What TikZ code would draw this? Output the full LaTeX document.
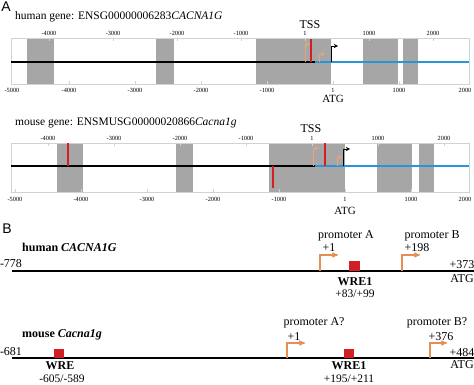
\documentclass[tikz,border=0pt]{standalone}
\usepackage{fontspec}
\setmainfont{Liberation Serif}
\newfontfamily\panelfont{Liberation Sans}
\usepackage{tikz}
\usetikzlibrary{arrows}

\definecolor{exongray}{RGB}{166,166,166}
\definecolor{utrblue}{RGB}{40,150,212}
\definecolor{promorange}{RGB}{230,142,84}
\definecolor{wrered}{RGB}{208,32,36}

\begin{document}
\begin{tikzpicture}[x=1pt,y=-1pt,
    panel/.style={font=\panelfont\fontsize{14}{15}\selectfont, inner sep=0pt},
    title/.style={font=\fontsize{11.5}{13}\selectfont, inner sep=0pt, anchor=west},
    axlab/.style={font=\fontsize{6.3}{7}\selectfont, inner sep=0pt},
    marklab/.style={font=\fontsize{12}{13}\selectfont, inner sep=0pt},
    blab/.style={font=\fontsize{12}{13}\selectfont, inner sep=0pt},
    poslab/.style={font=\fontsize{11.5}{12}\selectfont, inner sep=0pt},
    exon/.style={fill=exongray, draw=none},
    frame/.style={draw=gray!35, line width=0.4pt},
    tick/.style={draw=gray!35, line width=0.4pt},
    intron/.style={line width=1.2pt, black},
    utr/.style={line width=1.2pt, utrblue},
    tss/.style={line width=0.9pt, promorange!80, -stealth},
    atg/.style={line width=0.9pt, black, -stealth},
    wre/.style={line width=1.1pt, wrered},
    prom/.style={line width=1.1pt, promorange, -stealth'},
    box/.style={fill=wrered, draw=none}]
\useasboundingbox (0,0) rectangle (474,385);

% ---------------- Panel A: human gene ----------------
\node[panel] (labA) at (6,7) {A};
\node[title] (htitle) at (15,17) {human gene: ENSG00000006283\textit{CACNA1G}};

% exons (grey blocks)
\fill[exon] (27,38) rectangle (54,84);
\fill[exon] (156,38) rectangle (174,84);
\fill[exon] (256,38) rectangle (331,84);
\fill[exon] (363,38) rectangle (398,84);
\fill[exon] (403,38) rectangle (418,84);
\draw[frame] (11,38) rectangle (469,84);

% scales: top relative to TSS, bottom relative to ATG
\foreach \k/\v in {-4/-4000,-3/-3000,-2/-2000,-1/-1000,0/1,1/1000,2/2000} {
  \node[axlab] at (305+64*\k,33) {\v};
  \draw[tick] (305+64*\k,38) -- ++(0,3);
}
\foreach \k/\v in {-4/-4000,-3/-3000,-2/-2000,-1/-1000,0/1,1/1000} {
  \node[axlab] at (333+66*\k,90) {\v};
  \draw[tick] (333+66*\k,84) -- ++(0,-3);
}
\node[axlab] at (12,90) {-5000};
\node[axlab] at (465,90) {2000};

% gene line
\coordinate (hstart) at (11,62);
\coordinate (htss) at (315,62);
\coordinate (hend) at (469,62);
\draw[intron] (hstart) -- (htss);
\draw[utr] (htss) -- (hend);

% TSS, WRE and ATG marks
\coordinate (hwre) at (311,39);
\draw[wre] (hwre) -- (hwre |- hstart);
\coordinate (htssA) at (305,62);
\coordinate (htssAtip) at (310,44);
\draw[tss] (htssA) |- (htssAtip);
\coordinate (htssB) at (319,62);
\coordinate (htssBtip) at (325,54);
\draw[tss] (htssB) |- (htssBtip);
\coordinate (hatg) at (331,62);
\coordinate (hatgtip) at (338,46);
\draw[atg] (hatg) |- (hatgtip);
\node[marklab] (hTSS) at (310,25) {TSS};
\node[marklab, font=\fontsize{11}{12}\selectfont] (hATG) at (333,99) {ATG};

% ---------------- Panel A: mouse gene ----------------
\node[title] (mtitle) at (15,123) {mouse gene: ENSMUSG00000020866\textit{Cacna1g}};

% exons (grey blocks)
\fill[exon] (57,143) rectangle (83,192);
\fill[exon] (176,143) rectangle (193,192);
\fill[exon] (269,143) rectangle (345,192);
\fill[exon] (377,143) rectangle (412,192);
\fill[exon] (419,143) rectangle (434,192);
\draw[frame] (11,143) rectangle (469,192);

% scales
\foreach \k/\v in {-4/-4000,-3/-3000,-2/-2000,-1/-1000,0/1,1/1000,2/2000} {
  \node[axlab] at (312+66*\k,138) {\v};
  \draw[tick] (312+66*\k,143) -- ++(0,3);
}
\foreach \k/\v in {-5/-5000,-4/-4000,-3/-3000,-2/-2000,-1/-1000,0/1,1/1000} {
  \node[axlab] at (345+66*\k,199) {\v};
  \draw[tick] (345+66*\k,192) -- ++(0,-3);
}
\node[axlab] at (465,199) {2000};

% gene line
\coordinate (mstart) at (11,166);
\coordinate (mtss) at (315,166);
\coordinate (mend) at (469,166);
\draw[intron] (mstart) -- (mtss);
\draw[utr] (mtss) -- (mend);

% TSS, WRE and ATG marks
\coordinate (mwreA) at (68,143);
\draw[wre] (mwreA) -- (mwreA |- mstart);
\coordinate (mwreB) at (273,188);
\draw[wre] (mwreB) -- (mwreB |- mstart);
\coordinate (mwreC) at (325,143);
\draw[wre] (mwreC) -- (mwreC |- mstart);
\coordinate (mtssA) at (313,166);
\coordinate (mtssAtip) at (319,148);
\draw[tss] (mtssA) |- (mtssAtip);
\coordinate (mtssB) at (337,166);
\coordinate (mtssBtip) at (342,157);
\draw[tss] (mtssB) |- (mtssBtip);
\coordinate (matg) at (343,166);
\coordinate (matgtip) at (350,149);
\draw[atg] (matg) |- (matgtip);
\node[marklab] (mTSS) at (311,129) {TSS};
\node[marklab, font=\fontsize{11}{12}\selectfont] (mATG) at (345,211) {ATG};

% ---------------- Panel B: human promoter ----------------
\node[panel] (labB) at (7,229) {B};
\node[blab, anchor=west] (hname) at (22,247) {\textbf{human \textit{CACNA1G}}};
\node[blab] (hleft) at (11,264) {-778};
\coordinate (hbstart) at (12,271);
\coordinate (hbend) at (474,271);
\draw[intron] (hbstart) -- (hbend);

\coordinate (hpA) at (320,271);
\coordinate (hpAtip) at (338,255);
\draw[prom] (hpA) |- (hpAtip);
\node[blab] (hpAnum) at (329,248) {+1};
\node[blab] (hpAname) at (346,236) {promoter A};

\fill[box] (349,261) rectangle (360,271);
\node[blab] (hwre1) at (355,282) {\textbf{WRE1}};
\node[poslab] (hwre1pos) at (355,294) {+83/+99};

\coordinate (hpB) at (402,271);
\coordinate (hpBtip) at (420,255);
\draw[prom] (hpB) |- (hpBtip);
\node[blab] (hpBnum) at (417,248) {+198};
\node[blab] (hpBname) at (432,236) {promoter B};

\node[blab] (hbatgnum) at (462,265) {+373};
\node[blab] (hbatg) at (462,279) {ATG};

% ---------------- Panel B: mouse promoter ----------------
\node[blab, anchor=west] (mname) at (22,335) {\textbf{mouse \textit{Cacna1g}}};
\node[blab] (mleft) at (11,352) {-681};
\coordinate (mbstart) at (12,358);
\coordinate (mbend) at (474,358);
\draw[intron] (mbstart) -- (mbend);

\fill[box] (54,349) rectangle (64,358);
\node[blab] (mwre) at (60,366) {\textbf{WRE}};
\node[poslab] (mwrepos) at (62,378.5) {-605/-589};

\coordinate (mpA) at (287,358);
\coordinate (mpAtip) at (305,343);
\draw[prom] (mpA) |- (mpAtip);
\node[blab] (mpAnum) at (294,337) {+1};
\node[blab] (mpAname) at (314,323) {promoter A?};

\fill[box] (344,349) rectangle (354,358);
\node[blab] (mwre1) at (349,366) {\textbf{WRE1}};
\node[poslab] (mwre1pos) at (349,378.5) {+195/+211};

\coordinate (mpB) at (430,358);
\coordinate (mpBtip) at (447,343);
\draw[prom] (mpB) |- (mpBtip);
\node[blab] (mpBnum) at (441,337) {+376};
\node[blab] (mpBname) at (437,323) {promoter B?};

\node[blab] (mbatgnum) at (462,353) {+484};
\node[blab] (mbatg) at (462,365) {ATG};
\end{tikzpicture}
\end{document}
